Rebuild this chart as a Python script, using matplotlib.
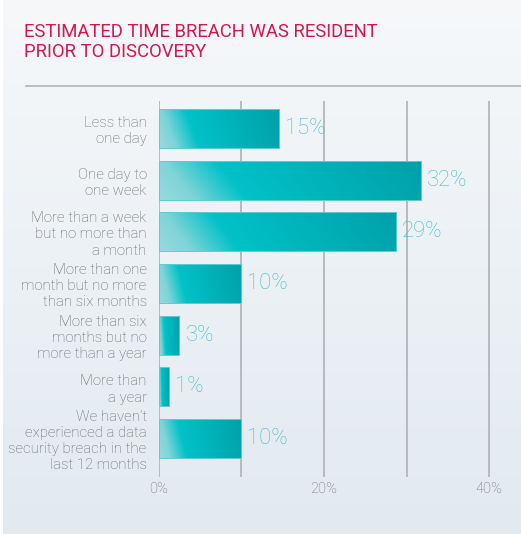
import numpy as np
import matplotlib
matplotlib.use("Agg")
from matplotlib import pyplot as plt
from matplotlib.colors import LinearSegmentedColormap
from matplotlib.patches import Rectangle
from matplotlib.lines import Line2D

plt.rcParams['font.family'] = ['Roboto', 'DejaVu Sans']

_TITLE = 'ESTIMATED TIME BREACH WAS RESIDENT\nPRIOR TO DISCOVERY'

categories = [
    'Less than\none day',
    'One day to\none week',
    'More than a week\nbut no more than\na month',
    'More than one\nmonth but no more\nthan six months',
    'More than six\nmonths but no\nmore than a year',
    'More than\na year',
    "We haven\u2019t\nexperienced a data\nsecurity breach in the\nlast 12 months",
]
# bar lengths, labels are the rounded figures
shares = [14.6, 31.7, 28.7, 10.0, 2.5, 1.2, 10.0]
labels = [15, 32, 29, 10, 3, 1, 10]
ticks = [0, 20, 40]
grid_at = [0, 10, 20, 30, 40]

W, H = 521, 534
fig = plt.figure(figsize=(W / 100, H / 100), dpi=100)
fig.patch.set_facecolor('white')

# panel background, light gradient top to bottom
bg = fig.add_axes([3 / W, 0, 1 - 3 / W, 1])
bg_cmap = LinearSegmentedColormap.from_list('bg', ['#f6f8fa', '#e2eaf0'])
bg.imshow(np.linspace(0, 1, 200).reshape(-1, 1), aspect='auto', cmap=bg_cmap,
          extent=(0, 1, 0, 1), origin='upper')
bg.set_axis_off()

fig.text(24 / W, 1 - 23 / H, _TITLE, color='#d6164c', fontsize=13.3,
         va='top', ha='left', linespacing=1.15)
fig.add_artist(Line2D([26 / W, 1], [1 - 86 / H, 1 - 86 / H],
                      color='#b0b3b6', lw=1.2, transform=fig.transFigure))

x0, x40 = 158.8, 489.3
px_per = (x40 - x0) / 40
top, bottom = 100.7, 476.7
ax = fig.add_axes([x0 / W, 1 - bottom / H, (W - x0) / W, (bottom - top) / H])
ax.patch.set_alpha(0)
ax.set_xlim(0, (W - x0) / px_per)
step = 51.67
ax.set_ylim((bottom - 128.5) / step, (top - 128.5) / step)
for s in ax.spines.values():
    s.set_visible(False)

for g in grid_at:
    ax.axvline(g, color='#b3b6b9', lw=1.3, zorder=1)

bar_cmap = LinearSegmentedColormap.from_list(
    'bar', [(0.0, '#96dbde'), (0.12, '#7fd4d8'), (0.3, '#00c2c8'), (1.0, '#00a0a9')])
bh = 0.755
nx, ny = 300, 40
xx, yy = np.meshgrid(np.linspace(0, 1, nx), np.linspace(0, 1, ny))
for i, (v, lab) in enumerate(zip(shares, labels)):
    grad = (xx - 0.12 * yy + 0.12) / 1.12
    im = ax.imshow(grad, cmap=bar_cmap, vmin=0, vmax=1, aspect='auto',
                   extent=(0, v, i + bh / 2, i - bh / 2), origin='upper',
                   interpolation='bilinear', zorder=2)
    rect = Rectangle((0, i - bh / 2), v, bh, facecolor='none',
                     edgecolor='#5fcbd2', lw=0.7, zorder=3)
    ax.add_patch(rect)
    im.set_clip_path(rect)
    ax.annotate(f'{lab}%', (v, i), xytext=(6, 0), textcoords='offset pixels',
                ha='left', va='center', fontsize=15.8, color='#47bccb',
                fontweight='light', zorder=4)

ax.set_yticks(range(len(categories)))
ax.set_yticklabels(categories, fontsize=10.8, color='#636363', linespacing=1.2,
                   fontweight='light')
ax.set_xticks(ticks)
ax.set_xticklabels([f'{t}%' for t in ticks], fontsize=10.5, color='#707070',
                   fontweight='light')
ax.tick_params(axis='both', length=0)
ax.tick_params(axis='y', pad=8.7)
ax.tick_params(axis='x', pad=4)

fig.savefig('out.png', dpi=100)
